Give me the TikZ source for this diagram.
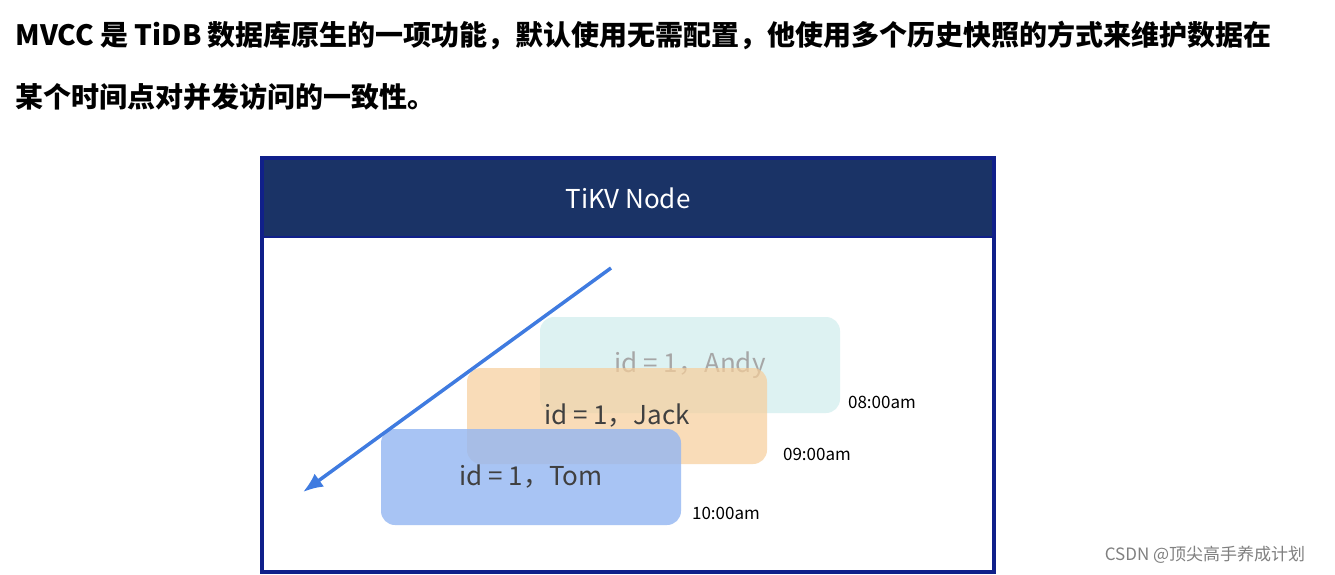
\documentclass[tikz,border=0pt]{standalone}
\usepackage{fontspec}
\usetikzlibrary{arrows.meta}
\setmainfont{Noto Sans CJK SC}
\definecolor{navy}{HTML}{1A3366}
\definecolor{navyb}{HTML}{10208A}
\definecolor{arrowblue}{HTML}{3F7BE0}
\definecolor{teal0}{HTML}{D8F0F0}
\definecolor{orange0}{HTML}{F7CE9A}
\definecolor{blue0}{HTML}{93B6F2}
\tikzset{
  rec/.style={rounded corners=14pt, minimum width=300pt, minimum height=96pt, inner sep=0pt, font=\fontsize{26}{30}\selectfont},
  tlabel/.style={anchor=center, font=\fontsize{17}{20}\selectfont}
}
\begin{document}
\begin{tikzpicture}[x=1pt,y=-1pt]
\useasboundingbox[fill=white] (0,0) rectangle (1335,575);
\node[anchor=west, font=\fontsize{28}{32}\selectfont\bfseries] (t1) at (12,35) {MVCC 是 TiDB 数据库原生的一项功能，默认使用无需配置，他使用多个历史快照的方式来维护数据在};
\node[anchor=west, font=\fontsize{28}{32}\selectfont\bfseries] (t2) at (12,97) {某个时间点对并发访问的一致性。};
\fill[navy] (262,158) rectangle (994,237);
\draw[navyb, line width=3.5pt] (262,158) rectangle (994,572);
\draw[navyb, line width=2pt] (262,237) -- (994,237);
\node[white, font=\fontsize{26}{30}\selectfont] (hd) at (628,198) {TiKV Node};
\node[rec, fill=teal0, fill opacity=0.85, text=gray!70, text opacity=1] (a) at (690,365) {id = 1，Andy};
\node[rec, fill=orange0, fill opacity=0.7, text=black!75, text opacity=1] (j) at (617,416) {id = 1，Jack};
\node[rec, fill=blue0, fill opacity=0.8, text=black!75, text opacity=1] (t) at (531,477) {id = 1，Tom};
\node[tlabel] (l1) at (882,402) {08:00am};
\node[tlabel] (l2) at (817,454) {09:00am};
\node[tlabel] (l3) at (726,513) {10:00am};
\coordinate (as) at (611,268);
\coordinate (ae) at (303,492);
\draw[arrowblue, line width=3.5pt, -{Latex[length=20pt,width=16pt]}] (as) -- (ae);
\node[gray, font=\fontsize{17}{20}\selectfont] (wm) at (1205,555) {CSDN @顶尖高手养成计划};
\end{tikzpicture}
\end{document}
